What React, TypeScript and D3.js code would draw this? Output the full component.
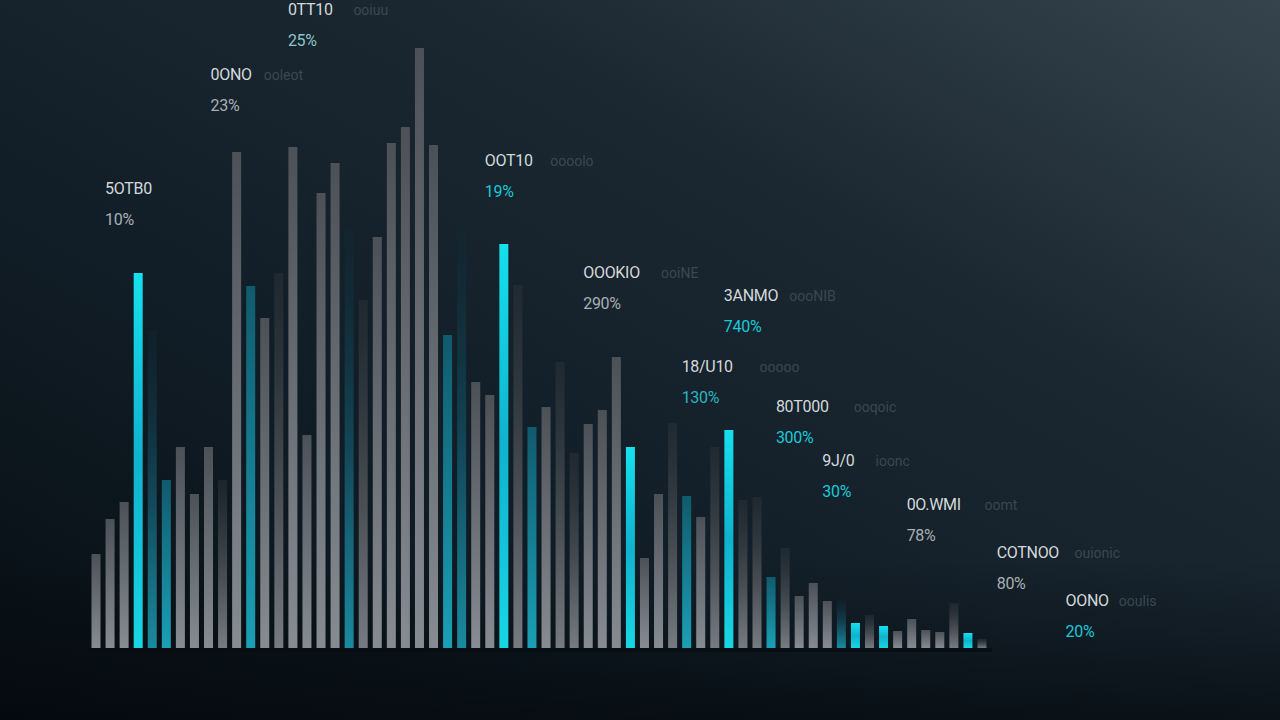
import * as d3 from 'd3'

// bar heights (px above baseline) and colour kind, left to right
const barValues = [
  94, 129, 146, 375, 318, 168, 201, 154, 201, 168,
  496, 362, 330, 375, 501, 213, 455, 485, 418, 348,
  411, 505, 521, 600, 503, 313, 418, 266, 253, 404,
  363, 221, 241, 286, 195, 224, 238, 291, 201, 90,
  154, 225, 152, 131, 201, 218, 148, 151, 71, 100,
  52, 65, 47, 48, 25, 33, 22, 17, 29, 18,
  16, 45, 15, 9,
]
const barKinds = [
  'g', 'g', 'g', 'c', 'f', 't', 'g', 'g', 'g', 'd',
  'g', 't', 'g', 'd', 'g', 'g', 'g', 'g', 'f', 'd',
  'g', 'g', 'g', 'g', 'g', 't', 'f', 'g', 'g', 'c',
  'd', 't', 'g', 'd', 'd', 'g', 'g', 'g', 'c', 'g',
  'g', 'd', 't', 'g', 'd', 'c', 'd', 'd', 't', 'd',
  'g', 'g', 'g', 'f', 'c', 'd', 'c', 'g', 'g', 'g',
  'g', 'd', 'c', 'd',
]

// callouts: anchor bar index, level, texts
const calloutAt = [14, 8.5, 1, 28, 35, 45, 42, 48.7, 52, 58, 64.4, 69.3]
const calloutLevel = [633, 568, 454, 482, 370, 347, 276, 236, 182, 138, 90, 42]
const calloutNames = ['0TT10', '0ONO', '5OTB0', 'OOT10', 'OOOKIO', '3ANMO', '18/U10', '80T000', '9J/0', '0O.WMI', 'COTNOO', 'OONO']
const calloutNotes = ['ooiuu', 'ooleot', '', 'oooolo', 'ooiNE', 'oooNIB', 'ooooo', 'ooqoic', 'ioonc', 'oomt', 'ouionic', 'ooulis']
const calloutPcts = ['25%', '23%', '10%', '19%', '290%', '740%', '130%', '300%', '30%', '78%', '80%', '20%']
const calloutTone = ['soft', 'gray', 'gray', 'hot', 'gray', 'hot', 'teal', 'hot', 'hot', 'gray', 'gray', 'hot']

const W = 1280
const H = 720

const fills: Record<string, string> = {
  g: 'url(#gGray)',
  d: 'url(#gDim)',
  c: 'url(#gCyan)',
  t: 'url(#gTeal)',
  f: 'url(#gFaint)',
}

const pctColor: Record<string, string> = {
  hot: '#1cc8d8',
  teal: '#2bb3c2',
  soft: '#8fc3c9',
  gray: '#a9afb4',
}

export default function App() {
  const baseline = 648
  const x = d3.scaleLinear().domain([0, barValues.length - 1]).range([96, 982])
  const y = d3.scaleLinear().domain([0, 600]).range([baseline, 48])
  const barW = 9

  return (
    <div style={{ position: 'fixed', left: 0, top: 0, width: W, height: H }}>
      <svg width={W} height={H} style={{ display: 'block' }}>
        <defs>
          <linearGradient id="bg" x1="0" y1="1" x2="1" y2="0">
            <stop offset="0%" stopColor="#060d12" />
            <stop offset="35%" stopColor="#111d26" />
            <stop offset="68%" stopColor="#1b2832" />
            <stop offset="100%" stopColor="#36444e" />
          </linearGradient>
          <linearGradient id="floor" x1="0" y1="0" x2="0" y2="1">
            <stop offset="0%" stopColor="#050a0f" stopOpacity="0" />
            <stop offset="100%" stopColor="#03070b" stopOpacity="0.6" />
          </linearGradient>
          <linearGradient id="gGray" x1="0" y1="0" x2="0" y2="1">
            <stop offset="0%" stopColor="#4c5157" />
            <stop offset="100%" stopColor="#878c92" />
          </linearGradient>
          <linearGradient id="gDim" x1="0" y1="0" x2="0" y2="1">
            <stop offset="0%" stopColor="#2b3238" stopOpacity="0.5" />
            <stop offset="60%" stopColor="#4a5056" />
            <stop offset="100%" stopColor="#767b81" />
          </linearGradient>
          <linearGradient id="gCyan" x1="0" y1="0" x2="0" y2="1">
            <stop offset="0%" stopColor="#16e0ee" />
            <stop offset="50%" stopColor="#10b2ce" />
            <stop offset="100%" stopColor="#19d6e4" />
          </linearGradient>
          <linearGradient id="gTeal" x1="0" y1="0" x2="0" y2="1">
            <stop offset="0%" stopColor="#115a6d" />
            <stop offset="100%" stopColor="#1aa0b6" />
          </linearGradient>
          <linearGradient id="gFaint" x1="0" y1="0" x2="0" y2="1">
            <stop offset="0%" stopColor="#0f2a35" stopOpacity="0.35" />
            <stop offset="55%" stopColor="#134a5c" />
            <stop offset="100%" stopColor="#1a8a9f" />
          </linearGradient>
        </defs>
        <rect width={W} height={H} fill="url(#bg)" />
        <rect y={H - 160} width={W} height={160} fill="url(#floor)" />

        {barValues.map((v, i) => (
          <rect
            key={i}
            x={x(i) - barW / 2}
            y={y(v)}
            width={barW}
            height={baseline - y(v)}
            fill={fills[barKinds[i]]}
          />
        ))}
        <rect x={88} y={baseline} width={904} height={4} fill="#070d12" opacity={0.8} />

        {calloutNames.map((name, i) => {
          const lx = x(calloutAt[i]) - 5
          const ly = y(calloutLevel[i])
          return (
            <g key={i} fontFamily="Roboto, 'DejaVu Sans', sans-serif">
              <text x={lx} y={ly} fontSize={16} fill="#d4d8db" letterSpacing={-0.3}>
                {name}
              </text>
              {calloutNotes[i] && (
                <text x={lx + name.length * 12.3 + 4} y={ly} fontSize={14} fill="#3b4751">
                  {calloutNotes[i]}
                </text>
              )}
              <text
                x={lx}
                y={ly + 31}
                fontSize={16}
                fill={pctColor[calloutTone[i]]}
                letterSpacing={-0.3}
              >
                {calloutPcts[i]}
              </text>
            </g>
          )
        })}
      </svg>
    </div>
  )
}
